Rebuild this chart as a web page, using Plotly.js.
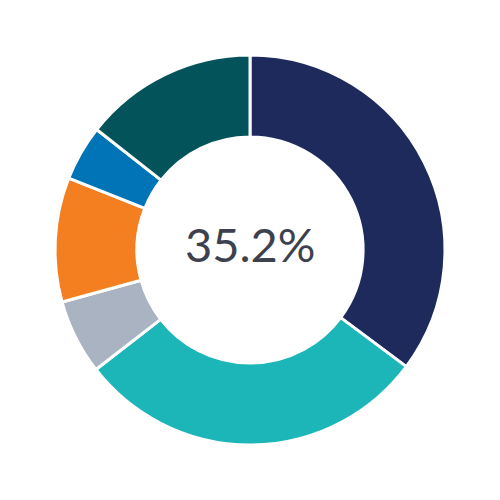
<!DOCTYPE html>
<html>
<head>
<meta charset="utf-8">
<script src="https://cdn.plot.ly/plotly-3.0.1.min.js"></script>
<style>
  html, body { margin: 0; padding: 0; background: #fff; }
  #chart { width: 500px; height: 500px; }
</style>
</head>
<body>
<div id="chart"></div>
<script>
const labels = ['A', 'B', 'C', 'D', 'E', 'F'];
const values = [35.2, 29.3, 6.2, 10.3, 4.6, 14.4];
const colors = ['#1d2a5b', '#1cb5b8', '#a9b3c1', '#f47f20', '#0074b7', '#03545a'];
const centerText = '35.2%';

const data = [{
    type: 'pie',
    labels: labels,
    values: values,
    hole: 0.58,
    sort: false,
    direction: 'clockwise',
    rotation: 0,
    textinfo: 'none',
    hoverinfo: 'label+percent',
    marker: { colors: colors, line: { color: '#ffffff', width: 3 } },
    domain: { x: [0.11, 0.89], y: [0.11, 0.89] },
}];

const layout = {
    width: 500,
    height: 500,
    margin: { t: 0, l: 0, r: 0, b: 0 },
    showlegend: false,
    paper_bgcolor: '#ffffff',
    annotations: [{
        text: centerText,
        x: 0.5, y: 0.512,
        xref: 'paper', yref: 'paper',
        showarrow: false,
        font: { family: 'Lato, sans-serif', size: 47, color: '#3d414d' },
    }],
};

Plotly.newPlot('chart', data, layout, { displayModeBar: false });
</script>
</body>
</html>
